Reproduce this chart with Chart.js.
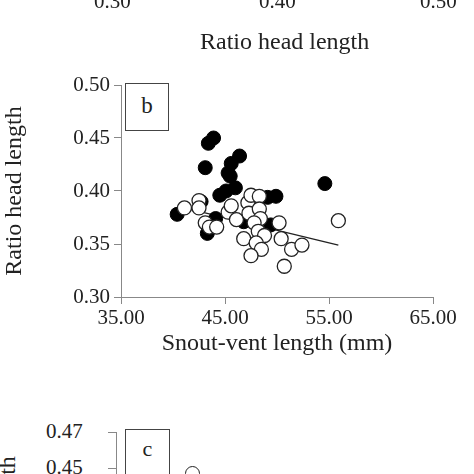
<!DOCTYPE html>
<html>
<head>
<meta charset="utf-8">
<script src="https://cdn.jsdelivr.net/npm/chart.js@4"></script>
<style>
  body { margin: 0; background: #fff; }
  #wrap { position: relative; width: 474px; height: 474px; overflow: hidden; font-family: "Liberation Serif", serif; color: #222; }
  .t { position: absolute; white-space: nowrap; }
  .box { position: absolute; border: 1.5px solid #444; background: #fff; font-size: 23px; text-align: center; box-sizing: border-box; }
</style>
</head>
<body>
<div id="wrap">
  <div style="position:absolute;left:0;top:0;width:474px;height:380px"><canvas id="scatterChart"></canvas></div>

  <!-- fragments of panels a and c -->
  <div class="t" style="left:94px;top:-11px;font-size:21px">0.30</div>
  <div class="t" style="left:259px;top:-11px;font-size:21px">0.40</div>
  <div class="t" style="left:420px;top:-11px;font-size:21px">0.50</div>
  <div class="t" style="left:200px;top:28px;font-size:24px">Ratio head length</div>

  <div class="box" style="left:125px;top:83px;width:44px;height:48px;line-height:44px">b</div>

  <div class="t" style="left:46px;top:419px;font-size:21px">0.47</div>
  <div class="t" style="left:46px;top:455px;font-size:21px">0.45</div>
  <div style="position:absolute;left:116px;top:432px;width:1px;height:50px;background:#888"></div>
  <div style="position:absolute;left:108px;top:432px;width:8px;height:1px;background:#888"></div>
  <div style="position:absolute;left:108px;top:468px;width:8px;height:1px;background:#888"></div>
  <div class="box" style="left:125px;top:429px;width:45px;height:60px;line-height:38px;font-size:22px">c</div>
  <div style="position:absolute;left:185px;top:466px;width:13px;height:13px;border:1.5px solid #222;border-radius:50%"></div>
  <div class="t" style="left:-2px;top:452px;font-size:24px;transform:rotate(-90deg)">th</div>
</div>

<script>
// Panel b: snout-vent length vs ratio head length
const filledSvl = [40.4, 43.4, 43.9, 43.1, 45.6, 46.4, 45.3, 45.5, 44.5, 45.1, 46.0, 49.1, 49.9, 54.6, 42.7, 44.1, 43.3, 46.8, 49.4];
const filledRatio = [0.378, 0.445, 0.450, 0.422, 0.426, 0.433, 0.417, 0.414, 0.396, 0.400, 0.403, 0.394, 0.395, 0.407, 0.390, 0.374, 0.360, 0.371, 0.368];

const openSvl = [41.1, 42.5, 42.5, 43.1, 43.5, 44.2, 45.3, 45.6, 46.1, 47.2, 47.5, 48.3, 47.3, 48.3, 48.4, 47.8, 48.2, 48.8, 46.8, 48.0, 48.5, 47.5, 50.2, 50.4, 51.4, 52.4, 50.7, 55.9];
const openRatio = [0.384, 0.391, 0.384, 0.370, 0.366, 0.366, 0.380, 0.386, 0.373, 0.389, 0.396, 0.395, 0.379, 0.383, 0.374, 0.370, 0.362, 0.358, 0.355, 0.351, 0.345, 0.339, 0.370, 0.355, 0.345, 0.349, 0.329, 0.372];

const trendSvl = [41.1, 55.9];
const trendRatio = [0.384, 0.349];

const xTicks = [35, 45, 55, 65];
const yTicks = [0.30, 0.35, 0.40, 0.45, 0.50];

const toPoints = (xs, ys) => xs.map((x, i) => ({ x: x, y: ys[i] }));
const font = { family: "Liberation Serif", size: 21 };
const titleFont = { family: "Liberation Serif", size: 24 };

new Chart(document.getElementById("scatterChart").getContext("2d"), {
  type: "scatter",
  data: {
    datasets: [
      {
        label: "Trend",
        type: "line",
        data: toPoints(trendSvl, trendRatio),
        borderColor: "#222",
        borderWidth: 1.3,
        pointRadius: 0,
        order: 3,
      },
      {
        label: "Filled",
        data: toPoints(filledSvl, filledRatio),
        backgroundColor: "#000",
        borderColor: "#000",
        pointRadius: 7,
        order: 2,
      },
      {
        label: "Open",
        data: toPoints(openSvl, openRatio),
        backgroundColor: "#fff",
        borderColor: "#222",
        borderWidth: 1.3,
        pointRadius: 7,
        order: 1,
      },
    ],
  },
  options: {
    responsive: true,
    maintainAspectRatio: false,
    animation: false,
    layout: { padding: { top: 85, right: 41, left: 0, bottom: 0 } },
    plugins: { legend: { display: false }, tooltip: { enabled: false } },
    scales: {
      x: {
        type: "linear",
        min: 35,
        max: 65,
        afterBuildTicks: (s) => { s.ticks = xTicks.map((v) => ({ value: v })); },
        afterFit: (s) => { s.height = 83; },
        ticks: { font: font, color: "#222", callback: (v) => v.toFixed(2), padding: 2 },
        grid: { drawOnChartArea: false, tickLength: 7, color: "#888" },
        border: { color: "#888" },
        title: { display: true, text: "Snout-vent length (mm)", font: titleFont, color: "#222", padding: { top: 0, bottom: 22 } },
      },
      y: {
        min: 0.30,
        max: 0.50,
        afterBuildTicks: (s) => { s.ticks = yTicks.map((v) => ({ value: v })); },
        afterFit: (s) => { s.width = 121; },
        ticks: { font: font, color: "#222", callback: (v) => v.toFixed(2), padding: 4 },
        grid: { drawOnChartArea: false, tickLength: 7, color: "#888" },
        border: { color: "#888" },
        title: { display: true, text: "Ratio head length", font: titleFont, color: "#222", padding: 0 },
      },
    },
  },
});
</script>
</body>
</html>
